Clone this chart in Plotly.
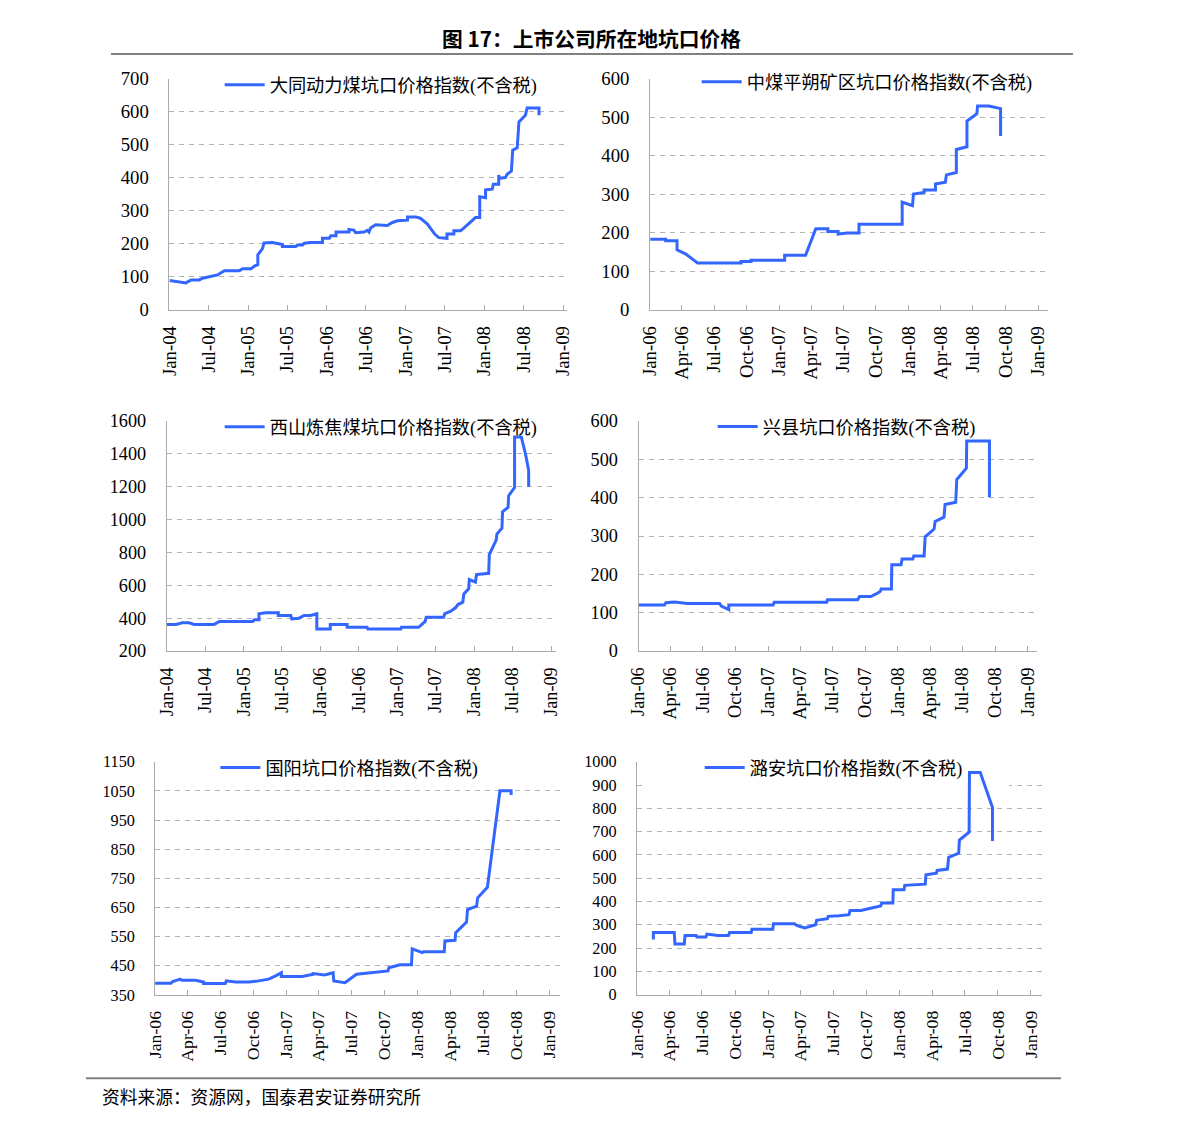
import plotly.graph_objects as go
import pandas as pd

# ---------------- data ----------------
datong_dates = ["2004-01-01", "2004-02-16", "2004-03-17", "2004-04-10", "2004-05-18", "2004-06-03", "2004-08-11",
                "2004-09-12", "2004-11-20", "2004-12-06", "2005-01-14", "2005-01-29", "2005-02-14", "2005-02-14",
                "2005-03-07", "2005-03-15", "2005-04-23", "2005-06-08", "2005-06-08", "2005-08-09", "2005-08-17",
                "2005-09-10", "2005-09-18", "2005-10-18", "2005-12-11", "2005-12-11", "2006-01-12", "2006-01-19",
                "2006-02-12", "2006-02-12", "2006-04-13", "2006-04-13", "2006-05-06", "2006-05-14", "2006-06-22",
                "2006-07-07", "2006-07-15", "2006-07-22", "2006-08-15", "2006-10-08", "2006-11-01", "2006-11-24",
                "2007-01-10", "2007-01-10", "2007-02-17", "2007-03-10", "2007-04-11", "2007-04-26", "2007-05-16",
                "2007-06-04", "2007-07-12", "2007-07-12", "2007-08-13", "2007-08-13", "2007-09-13", "2007-09-28",
                "2007-10-14", "2007-11-06", "2007-11-21", "2007-12-11", "2007-12-11", "2008-01-07", "2008-01-07",
                "2008-02-07", "2008-02-12", "2008-03-08", "2008-03-08", "2008-03-10", "2008-04-08", "2008-04-16",
                "2008-05-06", "2008-05-12", "2008-06-02", "2008-06-10", "2008-07-10", "2008-07-18", "2008-09-11",
                "2008-09-11"]
datong_values = [88, 83, 81, 90, 90, 95, 105, 118, 118, 124, 124, 132, 136, 166, 184, 202, 203, 197, 191, 191, 196,
                 196, 201, 203, 203, 216, 216, 224, 224, 235, 235, 243, 241, 233, 235, 240, 235, 247, 257, 255, 264,
                 269, 271, 281, 281, 277, 260, 247, 229, 218, 216, 229, 229, 239, 239, 247, 257, 269, 279, 279, 342,
                 339, 363, 365, 380, 380, 408, 398, 400, 410, 420, 483, 490, 569, 589, 611, 611, 589]

zhongmei_dates = ["2006-01-01", "2006-02-14", "2006-02-14", "2006-03-18", "2006-03-18", "2006-04-12", "2006-05-15",
                  "2006-09-15", "2006-09-15", "2006-10-13", "2006-10-13", "2007-01-16", "2007-01-16", "2007-03-16",
                  "2007-04-14", "2007-05-18", "2007-05-18", "2007-06-16", "2007-06-16", "2007-07-11", "2007-08-14",
                  "2007-08-14", "2007-12-14", "2007-12-14", "2008-01-12", "2008-01-15", "2008-02-14", "2008-02-14",
                  "2008-03-17", "2008-03-17", "2008-04-14", "2008-04-17", "2008-05-15", "2008-05-15", "2008-06-14",
                  "2008-06-14", "2008-07-12", "2008-07-14", "2008-08-15", "2008-09-17", "2008-09-17"]
zhongmei_values = [183, 183, 179, 179, 155, 144, 121, 121, 125, 125, 128, 128, 141, 141, 210, 210, 203, 203, 196,
                   199, 199, 222, 222, 279, 270, 300, 304, 311, 311, 326, 331, 350, 356, 416, 423, 490, 509, 529,
                   529, 522, 451]

xishan_dates = ["2004-01-01", "2004-02-14", "2004-03-15", "2004-04-16", "2004-05-10", "2004-08-13", "2004-09-07",
                "2005-02-12", "2005-02-20", "2005-03-14", "2005-03-14", "2005-04-15", "2005-06-14", "2005-06-14",
                "2005-08-12", "2005-08-17", "2005-09-21", "2005-10-14", "2005-11-15", "2005-12-09", "2005-12-14",
                "2005-12-14", "2006-02-16", "2006-02-16", "2006-05-07", "2006-05-07", "2006-08-10", "2006-08-14",
                "2007-01-17", "2007-01-20", "2007-04-12", "2007-05-13", "2007-05-18", "2007-08-09", "2007-08-14",
                "2007-09-10", "2007-10-04", "2007-10-16", "2007-11-08", "2007-11-13", "2007-12-06", "2007-12-09",
                "2008-01-07", "2008-01-12", "2008-02-08", "2008-02-13", "2008-03-10", "2008-03-13", "2008-04-15",
                "2008-04-18", "2008-05-12", "2008-05-15", "2008-06-10", "2008-06-13", "2008-07-11", "2008-07-11",
                "2008-08-12", "2008-09-01", "2008-09-16", "2008-09-16"]
xishan_values = [362, 362, 372, 372, 362, 362, 380, 380, 390, 390, 427, 433, 433, 416, 416, 396, 400, 416, 416, 427,
                 427, 334, 334, 362, 362, 344, 344, 334, 334, 344, 344, 380, 406, 406, 427, 441, 463, 483, 497, 548,
                 578, 635, 619, 665, 669, 673, 673, 787, 876, 912, 947, 1048, 1074, 1145, 1195, 1503, 1503, 1398,
                 1301, 1199]

xingxian_dates = ["2006-01-01", "2006-03-15", "2006-03-19", "2006-04-12", "2006-05-19", "2006-08-17", "2006-08-22",
                  "2006-09-12", "2006-09-12", "2007-01-15", "2007-01-18", "2007-06-15", "2007-06-17", "2007-09-10",
                  "2007-09-15", "2007-10-17", "2007-11-01", "2007-11-13", "2007-11-15", "2007-12-14", "2007-12-15",
                  "2008-01-10", "2008-01-13", "2008-02-12", "2008-02-15", "2008-03-15", "2008-03-18", "2008-04-12",
                  "2008-04-15", "2008-05-10", "2008-05-13", "2008-06-12", "2008-06-15", "2008-07-12", "2008-07-13",
                  "2008-09-15", "2008-09-15"]
xingxian_values = [120, 120, 126, 128, 124, 124, 117, 108, 120, 120, 127, 127, 134, 134, 142, 142, 149, 156, 162, 162,
                   225, 225, 240, 240, 248, 248, 298, 318, 338, 349, 382, 388, 447, 477, 548, 548, 401]

guoyang_dates = ["2006-01-01", "2006-02-14", "2006-02-19", "2006-03-12", "2006-03-16", "2006-04-23", "2006-05-16",
                 "2006-05-16", "2006-07-15", "2006-07-18", "2006-08-12", "2006-09-19", "2006-10-16", "2006-11-13",
                 "2006-12-02", "2006-12-18", "2006-12-18", "2007-02-14", "2007-03-17", "2007-03-17", "2007-04-18",
                 "2007-05-11", "2007-05-13", "2007-06-13", "2007-07-15", "2007-10-11", "2007-10-13", "2007-11-13",
                 "2007-12-15", "2007-12-17", "2008-01-14", "2008-01-17", "2008-03-15", "2008-03-17", "2008-04-14",
                 "2008-04-16", "2008-05-16", "2008-05-19", "2008-06-13", "2008-06-16", "2008-07-13", "2008-08-17",
                 "2008-09-17", "2008-09-17"]
guoyang_values = [390, 390, 396, 404, 400, 400, 394, 389, 389, 398, 394, 394, 398, 404, 415, 426, 413, 413, 421, 423,
                  418, 426, 398, 392, 421, 432, 443, 453, 453, 508, 495, 498, 498, 535, 537, 563, 600, 643, 654, 683,
                  719, 1050, 1050, 1036]

luan_dates = ["2006-02-16", "2006-02-16", "2006-04-15", "2006-04-17", "2006-05-13", "2006-05-15", "2006-06-15",
              "2006-06-17", "2006-07-12", "2006-07-15", "2006-08-14", "2006-09-13", "2006-09-16", "2006-11-15",
              "2006-11-17", "2007-01-14", "2007-01-16", "2007-03-15", "2007-03-23", "2007-04-13", "2007-05-13",
              "2007-05-16", "2007-06-15", "2007-06-17", "2007-07-17", "2007-08-14", "2007-08-17", "2007-09-16",
              "2007-10-13", "2007-11-10", "2007-11-13", "2007-12-14", "2007-12-15", "2008-01-14", "2008-01-16",
              "2008-02-16", "2008-02-18", "2008-03-13", "2008-03-15", "2008-04-13", "2008-04-15", "2008-05-14",
              "2008-05-17", "2008-06-14", "2008-06-16", "2008-07-13", "2008-07-14", "2008-08-13", "2008-09-16",
              "2008-09-16"]
luan_values = [236, 267, 267, 217, 217, 254, 254, 247, 247, 260, 254, 254, 267, 267, 281, 281, 304, 304, 296, 286,
               300, 319, 326, 336, 339, 343, 361, 361, 371, 381, 393, 393, 450, 450, 469, 471, 474, 474, 514, 521,
               533, 539, 589, 607, 664, 697, 954, 954, 803, 660]

series_names = ["大同动力煤坑口价格指数(不含税)", "中煤平朔矿区坑口价格指数(不含税)",
                "西山炼焦煤坑口价格指数(不含税)", "兴县坑口价格指数(不含税)",
                "国阳坑口价格指数(不含税)", "潞安坑口价格指数(不含税)"]

title_text = "图 17：上市公司所在地坑口价格"
source_text = "资料来源：资源网，国泰君安证券研究所"

# ---------------- layout geometry ----------------
# Positions below are measured on the target picture; they are mapped to page pixels
# (default 8px body margin, capture scale observed on the rendering) and then to paper fractions.
OFF = 8
SX, SY = 0.9875, 0.984
W, H = 1175, 1120
K = 1.0 / SX                # font / length compensation for the capture scale
LINE_COLOR = "#3366FF"
SERIF = "Liberation Serif, Noto Sans CJK SC"
CJK = "Noto Sans CJK SC"


def fx(px):
    return (px / SX - OFF) / W


def fy(py):
    return 1 - (py / SY - OFF) / H


panels = [
    dict(x=datong_dates, y=datong_values, xd=(166.7, 565), yd=(76.7, 308.3), yr=(0, 700), dt="M6", ydt=100, y0=0,
         xr=("2004-01-01", "2009-01-19"), leg=(225, 83), fs=18.5, yfs=18.5, mask=[(195, 566, 70, 84)]),
    dict(x=zhongmei_dates, y=zhongmei_values, xd=(648.3, 1047), yd=(76.7, 308.3), yr=(0, 600), dt="M3", ydt=100, y0=0,
         xr=("2006-01-01", "2009-01-29"), leg=(703, 80), fs=18.5, yfs=18.5, mask=[(683, 1048, 70, 84)]),
    dict(x=xishan_dates, y=xishan_values, xd=(164, 554), yd=(420, 650.7), yr=(200, 1600), dt="M6", ydt=200, y0=0,
         xr=("2004-01-01", "2009-01-24"), leg=(225, 426), fs=18, yfs=18, mask=[(190, 555, 414, 427)]),
    dict(x=xingxian_dates, y=xingxian_values, xd=(636.7, 1036), yd=(420, 650.7), yr=(0, 600), dt="M3", ydt=100, y0=0,
         xr=("2006-01-01", "2009-01-27"), leg=(719, 425.7), fs=18, yfs=18, mask=[(680, 1037, 414, 427)]),
    dict(x=guoyang_dates, y=guoyang_values, xd=(152.3, 558), yd=(761.7, 995.5), yr=(350, 1150), dt="M3", ydt=100,
         y0=350, xr=("2006-01-01", "2009-01-31"), leg=(220.7, 767.7), fs=17.5, yfs=16, mask=[(197, 487, 755, 769)]),
    dict(x=luan_dates, y=luan_values, xd=(635, 1040.7), yd=(761.7, 995.2), yr=(0, 1000), dt="M3", ydt=100, y0=0,
         xr=("2006-01-01", "2009-01-31"), leg=(706, 767.7), fs=17.5, yfs=16, mask=[(643, 1008, 755, 792)]),
]

fig = go.Figure()
layout = dict(
    width=W, height=H, margin=dict(l=0, r=0, t=0, b=0),
    paper_bgcolor="white", plot_bgcolor="white",
    font=dict(family=SERIF, size=17, color="black"),
    showlegend=True,
)
shapes = []

for i, p in enumerate(panels):
    n = i + 1
    xa = "x" if n == 1 else f"x{n}"
    ya = "y" if n == 1 else f"y{n}"
    lg = "legend" if n == 1 else f"legend{n}"
    fig.add_trace(go.Scatter(x=p["x"], y=p["y"], mode="lines", name=series_names[i],
                             line=dict(color=LINE_COLOR, width=3), xaxis=xa, yaxis=ya, legend=lg,
                             hoverinfo="x+y"))
    xkey = "xaxis" if n == 1 else f"xaxis{n}"
    ykey = "yaxis" if n == 1 else f"yaxis{n}"
    layout[xkey] = dict(
        domain=[fx(p["xd"][0]), fx(p["xd"][1])], anchor=ya, type="date",
        range=list(p["xr"]), tick0="2004-01-01", dtick=p["dt"], tickformat="%b-%y",
        tickangle=-90, ticks="inside", ticklen=5, tickcolor="#aaaaaa", tickwidth=1,
        showline=True, linecolor="#aaaaaa", linewidth=1, showgrid=False, zeroline=False,
        tickfont=dict(family=SERIF, size=p["fs"] * K, color="black"), ticklabelstandoff=8,
    )
    layout[ykey] = dict(
        domain=[fy(p["yd"][1]), fy(p["yd"][0])], anchor=xa,
        range=list(p["yr"]), dtick=p["ydt"], tick0=p["y0"], ticks="",
        showline=True, linecolor="#aaaaaa", linewidth=1,
        showgrid=True, gridcolor="#b4b4b4", gridwidth=1, griddash="5px,5px", zeroline=False,
        tickfont=dict(family=SERIF, size=p["yfs"] * K, color="black"), ticklabelstandoff=16,
    )
    layout[lg] = dict(
        x=fx(p["leg"][0] - 8), y=fy(p["leg"][1]), xanchor="left", yanchor="middle",
        xref="paper", yref="paper", bgcolor="rgba(255,255,255,0)", borderwidth=0,
        font=dict(family=SERIF, size=18 * K, color="black"), itemwidth=40,
    )
    # white box behind the legend hiding the top gridline(s): drawn between the grid and the data
    x0p, x1p = p["xd"]
    y0p, y1p = p["yd"]
    t0, t1 = pd.Timestamp(p["xr"][0]), pd.Timestamp(p["xr"][1])

    def px_to_date(px):
        return (t0 + (t1 - t0) * ((px - x0p) / (x1p - x0p))).strftime("%Y-%m-%d %H:%M")

    def px_to_val(py):
        return p["yr"][0] + (p["yr"][1] - p["yr"][0]) * (y1p - py) / (y1p - y0p)

    for (mx0, mx1, my0, my1) in p["mask"]:
        shapes.append(dict(
            type="rect", xref=xa, yref=ya, layer="between",
            x0=px_to_date(mx0), x1=px_to_date(mx1), y0=px_to_val(my1), y1=px_to_val(my0),
            fillcolor="white", line=dict(width=0),
        ))

layout["annotations"] = [
    dict(text=title_text, x=fx(590), y=fy(36), xref="paper", yref="paper", showarrow=False,
         xanchor="center", yanchor="middle", font=dict(family=CJK, size=20.5 * K, color="black", weight="bold")),
    dict(text=source_text, x=fx(97), y=fy(1097), xref="paper", yref="paper", showarrow=False,
         xanchor="left", yanchor="middle", font=dict(family=CJK, size=17.5 * K, color="black")),
]
shapes += [
    dict(type="line", xref="paper", yref="paper", x0=fx(108), x1=fx(1072), y0=fy(52), y1=fy(52),
         line=dict(color="#808080", width=2)),
    dict(type="line", xref="paper", yref="paper", x0=fx(83), x1=fx(1060), y0=fy(1079), y1=fy(1079),
         line=dict(color="#808080", width=2)),
]
layout["shapes"] = shapes

fig.update_layout(**layout)
fig.write_html("out.html")
